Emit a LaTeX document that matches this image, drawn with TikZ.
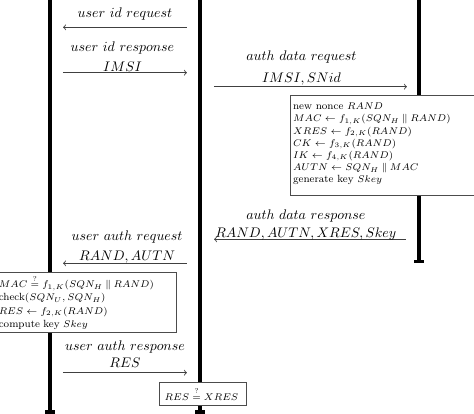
\documentclass[tikz,border=0pt]{standalone}
\usepackage{tikz}
\usetikzlibrary{arrows, arrows.meta, positioning}

\begin{document}
\begin{tikzpicture}[x=0.72pt, y=-0.72pt, >=to,
    life/.style={line width=2.3pt},
    msg/.style={->, line width=0.6pt, every edge/.append style={draw=black!75}},
    lbl/.style={above, inner sep=0pt, align=center},
    calcfont/.style={font=\fontsize{7.5pt}{8.8pt}\selectfont},
    calc/.style={draw=black!70, line width=0.6pt, fill=white, align=left, calcfont, inner sep=2pt}]

    \useasboundingbox (0,0) rectangle (474,414);
    \clip (0,0) rectangle (474,414);

    %lifelines
    \coordinate (ue0) at (50,-10);
    \coordinate (ue1) at (50,413.5);
    \coordinate (sn0) at (200,-10);
    \coordinate (sn1) at (200,413.5);
    \coordinate (hn0) at (419,-10);
    \coordinate (hn1) at (419,263);
    \draw[life, -{Bar[width=7pt]}] (ue0) -- (ue1);
    \draw[life, -{Bar[width=7pt]}] (sn0) -- (sn1);
    \draw[life, -{Bar[width=7pt]}] (hn0) -- (hn1);

    %messages
    \coordinate (m1a) at (187,27.3);  \coordinate (m1b) at (63,27.3);
    \coordinate (m2a) at (63,72.7);   \coordinate (m2b) at (187,72.7);
    \coordinate (m3a) at (214,86.7);  \coordinate (m3b) at (407,86.7);
    \coordinate (m4a) at (406,239.3); \coordinate (m4b) at (214,239.3);
    \coordinate (m5a) at (187,263.3); \coordinate (m5b) at (63,263.3);
    \coordinate (m6a) at (63,372.7);  \coordinate (m6b) at (187,372.7);

    \path[msg] (m1a) edge node[lbl, yshift=4.5pt] {$user\ id\ request$} (m1b)
               (m2a) edge node[lbl, xshift=-1.8pt, yshift=0.7pt] {$user\ id\ response$\\[2.4pt]$IMSI$} (m2b)
               (m3a) edge node[lbl, xshift=-6.5pt, yshift=0.9pt] {$auth\ data\ request$\\[4pt]$IMSI, SNid$} (m3b)
               (m4a) edge node[lbl, xshift=-3pt, yshift=-0.9pt] {$auth\ data\ response$\\[0.7pt]$RAND, AUTN, XRES, Skey$} (m4b)
               (m5a) edge node[lbl, xshift=1.5pt] {$user\ auth\ request$\\[2.4pt]$RAND, AUTN$} (m5b)
               (m6a) edge node[lbl, yshift=3.6pt] {$user\ auth\ response$\\$RES$} (m6b);

    %home network
    \node[calc, anchor=north west, minimum width=150pt, minimum height=72pt] (hnBox) at (290,95) {};
    \node[anchor=north west, align=left, calcfont, inner xsep=2pt, inner ysep=5.5pt] (hnCalc) at (hnBox.north west)
        {new nonce $RAND$\\
         $MAC \leftarrow f_{1,K}(SQN_H \mathbin{\|} RAND)$\\
         $XRES \leftarrow f_{2,K}(RAND)$\\
         $CK \leftarrow f_{3,K}(RAND)$\\
         $IK \leftarrow f_{4,K}(RAND)$\\
         $AUTN \leftarrow SQN_H \mathbin{\|} MAC$\\
         generate key $Skey$};

    %user
    \node[calc, anchor=north east, text width=126pt] (ueCalc) at (177,272)
        {$MAC \stackrel{?}{=} f_{1,K}(SQN_H \mathbin{\|} RAND)$\\[0.6pt]
         check$(SQN_U, SQN_H)$\\[0.6pt]
         $RES \leftarrow f_{2,K}(RAND)$\\[0.6pt]
         compute key $Skey$};

    %serving network
    \node[calc, anchor=north west, text width=55pt, inner xsep=3.8pt, minimum height=16.6pt] (snCheck) at (159,382)
        {\mbox{$RES \stackrel{?}{=} XRES$}};
\end{tikzpicture}
\end{document}
